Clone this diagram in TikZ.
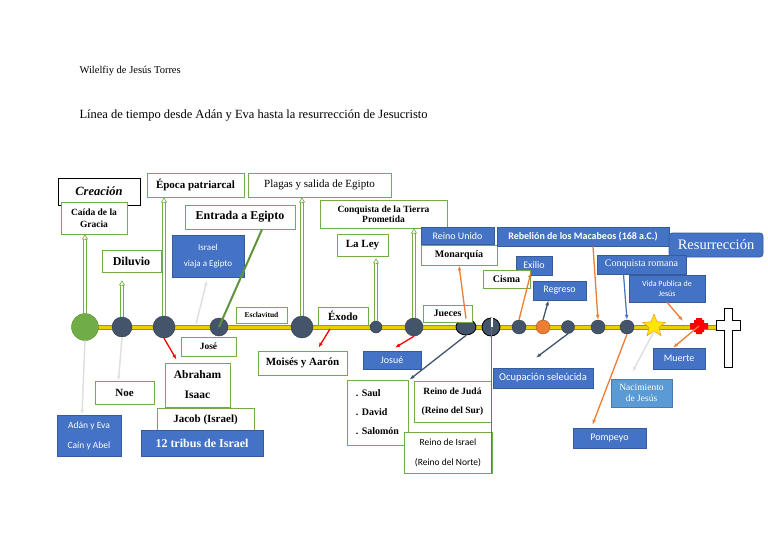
\documentclass[tikz,border=0pt]{standalone}
\usepackage{fontspec}
\setmainfont{Liberation Serif}
\newfontfamily\carl{Carlito}
\usepackage{xcolor}
\definecolor{grn}{HTML}{70AD47}
\definecolor{bl}{HTML}{4472C4}
\definecolor{lbl}{HTML}{5B9BD5}
\definecolor{dk}{HTML}{44546A}
\definecolor{gld}{HTML}{D4B106}
\definecolor{org}{HTML}{ED7D31}
\usetikzlibrary{calc, arrows.meta, shapes.geometric}

\tikzset{
  sz/.style 2 args={minimum width=#1, minimum height=#2},
  gbox/.style={draw=grn, line width=0.8pt, fill=white, align=center, inner sep=1pt, font=\bfseries\fontsize{11}{13}\selectfont},
  bbox/.style={fill=bl, draw=bl!80!black, line width=0.6pt, text=white, align=center, inner sep=1pt, font=\carl\fontsize{10}{12}\selectfont},
  dot/.style={circle, fill=dk, draw=dk!70!black, inner sep=0pt},
  up/.style={draw=grn, line width=0.8pt},
  uptip/.style={draw=grn, line width=0.6pt, -{Triangle[open, length=5pt, width=6pt]}},
  gry/.style={draw=black!12, line width=1.5pt, -{Latex[length=5pt]}},
  rd/.style={draw=red, line width=1.3pt, -{Latex[length=5pt]}},
  og/.style={draw=org, line width=1.3pt, -{Latex[length=5pt]}},
  dg/.style={draw=dk, line width=1.3pt, -{Latex[length=5pt]}},
}
\newcommand\greenup[2]{%
  \draw[up] ($(#1)+(-1.3,0)$) -- ($(#2)+(-1.3,5)$);
  \draw[up] ($(#1)+(1.3,0)$) -- ($(#2)+(1.3,5)$);
  \draw[uptip] ($(#2)+(0,5)$) -- (#2);}

\begin{document}
\begin{tikzpicture}[x=1pt, y=-1pt]
  \useasboundingbox[fill=white] (0,0) rectangle (768,543);

  % titles
  \node[anchor=west, font=\fontsize{10.5}{12}\selectfont] (autor) at (76,71) {Wilelfiy de Jesús Torres};
  \node[anchor=west, font=\fontsize{12.5}{14}\selectfont] (titulo) at (76,116) {Línea de tiempo desde Adán y Eva hasta la resurrección de Jesucristo};

  % timeline
  \draw[gld!80!black, line width=5pt] (72,327) -- (735,327);
  \draw[gld!60!yellow, line width=3pt] (72,327) -- (735,327);

  \node[circle, fill=grn, draw=grn!80!black, inner sep=0pt, minimum size=27pt] (c0) at (85,327) {};
  \foreach \x/\r/\n in {122/20/cdil, 164/22/cpat, 219/18/cegi, 302/22/cpla, 376/12/cley, 414/18/ccon, 519/14/cexi, 568/13/cocu, 598/14/cmac, 627/14/crom}
    \node[dot, minimum size=\r pt] (\n) at (\x,327) {};
  \node[ellipse, fill=dk, draw=black, line width=0.8pt, minimum width=20pt, minimum height=16pt, inner sep=0pt] (cmon) at (466,327) {};
  \node[dot, draw=black, line width=0.8pt, minimum size=18pt] (ccis) at (491,327) {};
  \node[circle, fill=org, draw=org!70!black, inner sep=0pt, minimum size=14pt] (creg) at (543,327) {};
  \node[star, star points=5, star point ratio=2.3, fill=yellow!90!orange, draw=org, inner sep=0pt, minimum size=24pt] (nac) at (654,326) {};
  \fill[red] (694,320) rectangle (704,332) (690,323) rectangle (708,329) (696,318) rectangle (702,334);
  \coordinate (cmue) at (699,326);
  \draw[black, fill=white, line width=0.8pt] (724,308) -- (732,308) -- (732,320) -- (740,320) -- (740,330) -- (732,330) -- (732,367) -- (724,367) -- (724,330) -- (716,330) -- (716,320) -- (724,320) -- cycle;

  % upper boxes
  \node[draw=black, line width=0.8pt, fill=white, sz={82pt}{27pt}, font=\bfseries\itshape\fontsize{12.5}{14}\selectfont] (crea) at (99,191.5) {Creación};
  \node[gbox, sz={66pt}{32pt}, font=\bfseries\fontsize{9.5}{12}\selectfont] (caida) at (94,218) {Caída de la\\Gracia};
  \node[gbox, sz={97pt}{24pt}] (epoca) at (195.5,185) {Época patriarcal};
  \node[gbox, sz={143pt}{24pt}, font=\fontsize{11}{13}\selectfont] (plagas) at (319.5,185) {Plagas y salida de Egipto};
  \node[gbox, sz={110pt}{24pt}, font=\bfseries\fontsize{12}{14}\selectfont] (entrada) at (240,217) {Entrada a Egipto};
  \node[gbox, sz={127pt}{28pt}, font=\bfseries\fontsize{9.5}{10}\selectfont] (conq) at (383.5,214) {Conquista de la Tierra\\Prometida};
  \node[bbox, sz={72pt}{42pt}, font=\carl\fontsize{9}{16}\selectfont] (israel) at (208,256) {Israel\\viaja a Egipto};
  \node[gbox, sz={59pt}{22pt}, font=\bfseries\fontsize{12}{14}\selectfont] (diluvio) at (131.5,261) {Diluvio};
  \node[gbox, sz={51pt}{22pt}] (ley) at (362.5,245) {La Ley};
  \node[bbox, sz={73pt}{17pt}] (runido) at (457.5,236) {Reino Unido};
  \node[gbox, sz={76pt}{20pt}, font=\bfseries\fontsize{10}{12}\selectfont] (monar) at (459,255) {Monarquía};
  \node[bbox, sz={172pt}{19pt}, font=\carl\bfseries\fontsize{10}{12}\selectfont] (macab) at (583,236.5) {Rebelión de los Macabeos (168 a.C.)};
  \node[bbox, rounded corners=3pt, sz={94pt}{24pt}, font=\fontsize{14.5}{16}\selectfont] (resu) at (716,245) {Resurrección};
  \node[bbox, sz={36pt}{19pt}] (exilio) at (534,265.5) {Exilio};
  \node[gbox, sz={47pt}{18pt}, font=\bfseries\fontsize{10}{12}\selectfont] (cisma) at (506.5,279) {Cisma};
  \node[bbox, sz={53pt}{19pt}] (regreso) at (559.5,290.5) {Regreso};
  \node[bbox, sz={89pt}{19pt}, font=\fontsize{10}{12}\selectfont] (roma) at (641.5,264.5) {Conquista romana};
  \node[bbox, sz={76pt}{27pt}, font=\carl\fontsize{8}{10}\selectfont] (vida) at (667,288.5) {Vida Publica de\\Jesús};
  \node[gbox, sz={51pt}{16pt}, font=\bfseries\fontsize{7.5}{9}\selectfont] (escl) at (261.5,315) {Esclavitud};
  \node[gbox, sz={50pt}{18pt}] (exodo) at (343,316) {Éxodo};
  \node[gbox, sz={49pt}{17pt}, font=\bfseries\fontsize{10}{12}\selectfont] (jueces) at (447.5,313.5) {Jueces};

  % lower boxes
  \node[gbox, sz={55pt}{19pt}, font=\bfseries\fontsize{9.5}{11}\selectfont] (jose) at (208.5,346.5) {José};
  \node[gbox, sz={89pt}{24pt}] (moises) at (302.5,363) {Moisés y Aarón};
  \node[bbox, sz={58pt}{18pt}] (josue) at (392,360) {Josué};
  \node[bbox, sz={52pt}{21pt}] (muerte) at (679,358.5) {Muerte};
  \node[gbox, sz={59pt}{23pt}] (noe) at (124.5,392.5) {Noe};
  \node[gbox, sz={65pt}{44pt}, font=\bfseries\fontsize{11.5}{20}\selectfont] (abra) at (197.5,385) {Abraham\\Isaac};
  \node[gbox, sz={97pt}{24pt}] (jacob) at (205.5,420) {Jacob (Israel)};
  \node[bbox, sz={122pt}{26pt}, font=\bfseries\fontsize{12}{14}\selectfont] (tribus) at (202,443) {12 tribus de Israel};
  \node[bbox, sz={64pt}{41pt}, font=\carl\fontsize{9.5}{20}\selectfont] (adan) at (89,435.5) {Adán y Eva\\Caín y Abel};
  \node[gbox, sz={61pt}{65pt}, align=left, font=\bfseries\fontsize{10}{19}\selectfont] (reyes) at (377.5,412.5) {. Saul\\. David\\. Salomón};
  \node[gbox, sz={77pt}{41pt}, font=\bfseries\fontsize{9.5}{19}\selectfont] (juda) at (452.5,401.5) {Reino de Judá\\(Reino del Sur)};
  \node[gbox, sz={88pt}{41pt}, font=\carl\fontsize{9.5}{20}\selectfont] (norte) at (448,452.5) {Reino de Israel\\(Reino del Norte)};
  \node[bbox, sz={100pt}{20pt}, font=\carl\fontsize{10.5}{12}\selectfont] (seleu) at (543,378) {Ocupación seleúcida};
  \node[bbox, fill=lbl, draw=lbl!80!black, sz={61pt}{28pt}, font=\fontsize{9.5}{11}\selectfont] (nacim) at (641.5,393) {Nacimiento\\de Jesús};
  \node[bbox, sz={73pt}{20pt}] (pomp) at (609.5,438) {Pompeyo};

  % connectors
  \coordinate (tcai) at (c0 |- caida.south);
  \coordinate (tdil) at ($(cdil |- diluvio.south)+(0,8)$);
  \coordinate (tpat) at (cpat |- epoca.south);
  \coordinate (tpla) at (cpla |- plagas.south);
  \coordinate (tley) at ($(cley |- ley.south)+(0,2)$);
  \coordinate (tcon) at (ccon |- conq.south);
  \greenup{c0.north}{tcai}
  \greenup{cdil.north}{tdil}
  \greenup{cpat.north}{tpat}
  \greenup{cpla.north}{tpla}
  \greenup{cley.north}{tley}
  \greenup{ccon.north}{tcon}
  \draw[grn!85!black, line width=2pt] (cegi.center) -- ($(entrada.south)+(22,0)$);
  \draw[gry] (c0.south) -- ($(adan.north)+(-7,0)$);
  \draw[gry] (cdil.south) -- ($(noe.north)+(-6,0)$);
  \draw[gry] (196,324) -- ($(israel.south)+(-1,3)$);
  \draw[gry] (nac.south) -- ($(nacim.north)+(-9,-7)$);
  \draw[rd] (cpat.south) -- ($(abra.north)+(-21,-3)$);
  \draw[rd] (330,329) -- ($(moises.north)+(16,-3)$);
  \draw[rd] (ccon.south) -- ($(josue.north)+(3,-3)$);
  \draw[og] (cmon.north) -- (monar.south);
  \draw[og] (cexi.north) -- ($(exilio.south)+(-3,-3)$);
  \draw[og] ($(macab.south)+(10,0)$) -- (cmac.north);
  \draw[og] (crom.south) -- ($(pomp.north)+(-17,-3)$);
  \draw[og] (vida.south) -- (683,321);
  \draw[og] (cmue) -- ($(muerte.north)+(-6,0)$);
  \draw[dg] (cmon.south) -- ($(reyes.north)+(32,0)$);
  \draw[dg] (creg.north) -- ($(regreso.south)+(-11,0)$);
  \draw[dg] (cocu.south) -- ($(seleu.north)+(-7,-10)$);
  \draw[draw=bl, line width=1.2pt, -{Latex[length=5pt]}] ($(roma.south)+(-18,0)$) -- (crom.north);
  \draw[draw=bl, line width=0.8pt] (ccis.center) -- (ccis |- norte.south);
  \fill[white] (ccis.center) rectangle ++(2,-9);
\end{tikzpicture}
\end{document}
